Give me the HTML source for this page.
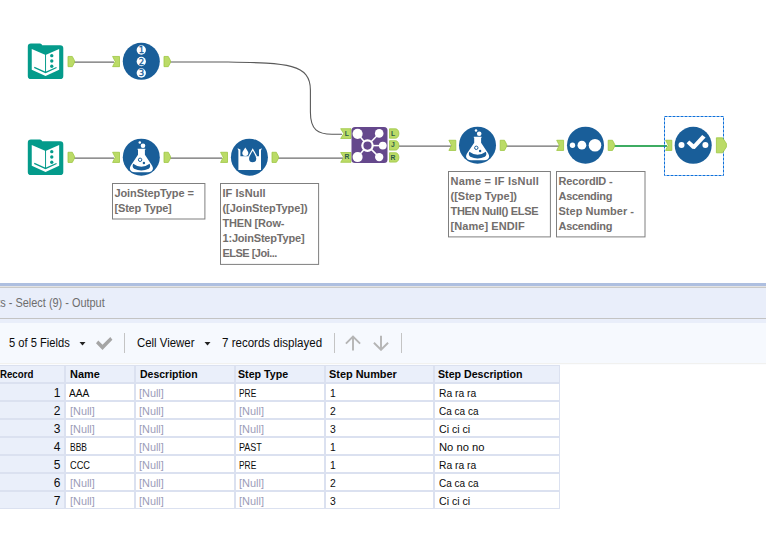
<!DOCTYPE html>
<html>
<head>
<meta charset="utf-8">
<title>Workflow</title>
<style>
html,body{margin:0;padding:0;background:#fff;}
body{width:766px;height:548px;overflow:hidden;position:relative;font-family:"Liberation Sans",sans-serif;}
#canvas{position:absolute;left:0;top:0;width:766px;height:283px;}
.abs{position:absolute;}
.ann{position:absolute;color:#726e6c;font-weight:bold;font-size:11px;line-height:15px;white-space:nowrap;}
#band{left:0;top:283px;width:766px;height:3px;background:#aebfe0;}
#l1{left:0;top:286px;width:766px;height:1px;background:#e3e3e3;}
#l2{left:0;top:287px;width:766px;height:1px;background:#c9c9c9;}
#title{left:0;top:288px;width:766px;height:30px;background:#e9eefa;color:#6d6d6d;font-size:12px;line-height:30px;white-space:nowrap;overflow:hidden;}
#l3{left:0;top:318px;width:766px;height:1px;background:#c3c3c3;}
#tb{left:0;top:319px;width:766px;height:44px;background:#f6f9fe;font-size:12px;color:#0c0c0c;}
#l3b{left:0;top:319px;width:766px;height:4px;background:#e9eefa;}
#l4{left:0;top:363px;width:766px;height:1px;background:#f1f1ef;}
#l5{left:0;top:364px;width:766px;height:1px;background:#fbfcfe;}
.tt{position:absolute;top:1px;line-height:47px;white-space:nowrap;}
.sep{position:absolute;top:14px;width:1px;height:20px;background:#c4c4c4;}
#grid{left:0;top:365px;width:560px;height:144px;background:#dbe1f0;}
.c{position:absolute;height:16px;line-height:18px;font-size:11.5px;color:#0c0c0c;white-space:nowrap;overflow:hidden;box-sizing:border-box;padding-left:0;background:#fff;}
.h{background:#eaeffa;font-weight:bold;font-size:11px;line-height:16px;color:#050505;}
.r{background:#eaeffa;text-align:right;padding-right:3.5px;padding-left:0;font-size:12px;}
.n{color:#9c9db8;}
.s{display:inline-block;transform-origin:0 50%;}
</style>
</head>
<body>
<svg id="canvas" width="766" height="283" viewBox="0 0 766 283">
<line x1="74" y1="62" x2="114" y2="62" stroke="#6c6c6c" stroke-width="1.25"/>
<line x1="74" y1="158" x2="114" y2="158" stroke="#6c6c6c" stroke-width="1.25"/>
<line x1="170" y1="158" x2="222" y2="158" stroke="#6c6c6c" stroke-width="1.25"/>
<line x1="278" y1="158" x2="343" y2="158" stroke="#6c6c6c" stroke-width="1.25"/>
<line x1="399" y1="146" x2="452" y2="146" stroke="#6c6c6c" stroke-width="1.25"/>
<line x1="505" y1="146" x2="560" y2="146" stroke="#6c6c6c" stroke-width="1.25"/>
<line x1="612" y1="146" x2="667" y2="146" stroke="#3eac62" stroke-width="2"/>
<path d="M170 62 L228 62 C288 63 310.4 64 310.4 90 L310.4 112 C310.4 130 318 134.2 332 134.2 L342 134.2" fill="none" stroke="#5a5a5a" stroke-width="1.1"/>
<g transform="translate(27.8,43.6) scale(0.986)">
<path d="M0 3.2 Q0 0 3.2 0 H12.4 Q14 0 14.6 1.6 H32.8 Q36 1.6 36 4.8 V32.8 Q36 36 32.8 36 H3.2 Q0 36 0 32.8 Z" fill="#049b8b"/>
<path d="M4 5.5 L17.5 11.3 V28.3 L6.8 23.6 L6.3 24.7 L18 30 L29.4 24.8 L28.9 23.7 L18.5 28.3 V11.3 L31.8 5.5 V26.6 L18 32.8 L4 26.6 Z" fill="#fff"/>
<circle cx="24.3" cy="12.2" r="1.7" fill="#049b8b"/><circle cx="24.3" cy="17.6" r="1.7" fill="#049b8b"/><circle cx="24.3" cy="23" r="1.7" fill="#049b8b"/>
</g>
<path d="M68.00 56.45 h4.29 l2.21 4.20 v1.8 l-2.21 4.20 h-4.29 z" fill="#bbdb67" stroke="#9dc642" stroke-width="0.8" stroke-linejoin="round"/>
<path d="M112.60 56.45 h6.9 v10.2 h-6.9 l2.6 -5.1 z" fill="#bbdb67" stroke="#9dc642" stroke-width="0.8" stroke-linejoin="round"/>
<circle cx="141.3" cy="61.3" r="18.5" fill="#195e99"/><circle cx="141.3" cy="50.0" r="4.65" fill="#fff"/><text x="141.4" y="53.05" text-anchor="middle" font-family="DejaVu Sans, Liberation Sans, sans-serif" font-size="8.5" fill="#195e99" stroke="#195e99" stroke-width="0.3">1</text><circle cx="141.3" cy="61.5" r="4.65" fill="#fff"/><text x="141.4" y="64.55" text-anchor="middle" font-family="DejaVu Sans, Liberation Sans, sans-serif" font-size="8.5" fill="#195e99" stroke="#195e99" stroke-width="0.3">2</text><circle cx="141.3" cy="73.0" r="4.65" fill="#fff"/><text x="141.4" y="76.05" text-anchor="middle" font-family="DejaVu Sans, Liberation Sans, sans-serif" font-size="8.5" fill="#195e99" stroke="#195e99" stroke-width="0.3">3</text>
<path d="M164.00 56.45 h4.29 l2.21 4.20 v1.8 l-2.21 4.20 h-4.29 z" fill="#bbdb67" stroke="#9dc642" stroke-width="0.8" stroke-linejoin="round"/>
<g transform="translate(27.8,139.6) scale(0.986)">
<path d="M0 3.2 Q0 0 3.2 0 H12.4 Q14 0 14.6 1.6 H32.8 Q36 1.6 36 4.8 V32.8 Q36 36 32.8 36 H3.2 Q0 36 0 32.8 Z" fill="#049b8b"/>
<path d="M4 5.5 L17.5 11.3 V28.3 L6.8 23.6 L6.3 24.7 L18 30 L29.4 24.8 L28.9 23.7 L18.5 28.3 V11.3 L31.8 5.5 V26.6 L18 32.8 L4 26.6 Z" fill="#fff"/>
<circle cx="24.3" cy="12.2" r="1.7" fill="#049b8b"/><circle cx="24.3" cy="17.6" r="1.7" fill="#049b8b"/><circle cx="24.3" cy="23" r="1.7" fill="#049b8b"/>
</g>
<path d="M68.00 152.25 h4.29 l2.21 4.20 v1.8 l-2.21 4.20 h-4.29 z" fill="#bbdb67" stroke="#9dc642" stroke-width="0.8" stroke-linejoin="round"/>
<path d="M112.60 152.25 h6.9 v10.2 h-6.9 l2.6 -5.1 z" fill="#bbdb67" stroke="#9dc642" stroke-width="0.8" stroke-linejoin="round"/>
<circle cx="141.3" cy="157.2" r="18.5" fill="#195e99"/><g transform="translate(141.3,157.2)">
<path d="M-3.7 -8.4 H4.1 V-7.4 H3.6 V-2.4 L10.7 8.4 Q12.8 12.2 10.2 14 Q8.8 15 6.6 15 H-6.4 Q-8.6 15 -10 14 Q-12.6 12.2 -10.5 8.4 L-3.3 -2.4 V-7.4 H-3.7 Z" fill="#fff"/>
<path d="M-8.1 6.5 Q0 12.6 8.3 6.5 Q9.8 9.4 7.4 11.6 Q0 15 -7.2 11.6 Q-9.6 9.4 -8.1 6.5 Z" fill="#195e99"/>
<circle cx="-1.2" cy="2.6" r="1.7" fill="#fff" stroke="#195e99" stroke-width="1"/>
<circle cx="2.6" cy="5.8" r="1.2" fill="#195e99"/>
<circle cx="-1.5" cy="-14.6" r="1.25" fill="#fff"/>
<circle cx="1.7" cy="-11.4" r="2.3" fill="#fff"/>
</g>
<path d="M164.00 152.25 h4.29 l2.21 4.20 v1.8 l-2.21 4.20 h-4.29 z" fill="#bbdb67" stroke="#9dc642" stroke-width="0.8" stroke-linejoin="round"/>
<path d="M220.60 152.25 h6.9 v10.2 h-6.9 l2.6 -5.1 z" fill="#bbdb67" stroke="#9dc642" stroke-width="0.8" stroke-linejoin="round"/>
<circle cx="249.4" cy="157.2" r="18.5" fill="#195e99"/><g transform="translate(249.70000000000002,157.2)">
<path d="M-12.2 -8.9 L-9.3 -7.6 V-0.9 H9.3 V-7.6 L12.2 -8.9 L11.3 -6.6 V12.8 H-11.3 V-6.6 Z" fill="#fff"/>
<path d="M-4.4 -9.6 Q-1.4 -5.4 -1.4 -4.2 A3 3 0 0 1 -7.4 -4.2 Q-7.4 -5.4 -4.4 -9.6 Z" fill="#fff"/>
<path d="M-1.6 -0.8 L3 -9 L7.6 -0.8 Z" fill="#fff"/>
<path d="M3 -6.4 Q6.6 -0.6 6.6 1.5 A3.6 3.6 0 0 1 -0.6 1.5 Q-0.6 -0.6 3 -6.4 Z" fill="#195e99"/>
</g>
<path d="M272.00 152.25 h4.29 l2.21 4.20 v1.8 l-2.21 4.20 h-4.29 z" fill="#bbdb67" stroke="#9dc642" stroke-width="0.8" stroke-linejoin="round"/>
<path d="M340.70 128.70 h10.3 v9.8 h-10.3 l3 -4.9 z" fill="#bbdb67" stroke="#9dc642" stroke-width="0.8" stroke-linejoin="round"/>
<path d="M340.70 152.50 h10.3 v9.8 h-10.3 l3 -4.9 z" fill="#bbdb67" stroke="#9dc642" stroke-width="0.8" stroke-linejoin="round"/>
<rect x="351.5" y="127" width="36" height="36" rx="3.5" fill="#65488c"/><g stroke="#fff" stroke-width="1.5"><line x1="367.5" y1="145.6" x2="357.6" y2="133.8"/><line x1="367.5" y1="145.6" x2="379.2" y2="133.4"/><line x1="367.5" y1="145.6" x2="382.8" y2="145.6"/><line x1="367.5" y1="145.6" x2="379.2" y2="157.1"/><line x1="367.5" y1="145.6" x2="357.6" y2="157.1"/></g><circle cx="357.6" cy="133.8" r="5.1" fill="#fff"/><circle cx="357.6" cy="157.1" r="5" fill="#fff"/><circle cx="379.2" cy="133.4" r="4.3" fill="#fff"/><circle cx="379.2" cy="157.1" r="4.2" fill="#fff"/><circle cx="382.8" cy="145.6" r="3.9" fill="#fff"/><circle cx="367.5" cy="145.6" r="5.2" fill="#65488c" stroke="#fff" stroke-width="2.2"/>
<path d="M389.50 128.80 h6.20 c1.92 0 3.20 2.35 3.20 4.70 c0 2.35 -1.28 4.70 -3.20 4.70 h-6.20 z" fill="#bbdb67" stroke="#9dc642" stroke-width="0.8" stroke-linejoin="round"/>
<path d="M389.50 140.70 h6.20 c1.92 0 3.20 2.35 3.20 4.70 c0 2.35 -1.28 4.70 -3.20 4.70 h-6.20 z" fill="#bbdb67" stroke="#9dc642" stroke-width="0.8" stroke-linejoin="round"/>
<path d="M389.50 152.70 h6.20 c1.92 0 3.20 2.35 3.20 4.70 c0 2.35 -1.28 4.70 -3.20 4.70 h-6.20 z" fill="#bbdb67" stroke="#9dc642" stroke-width="0.8" stroke-linejoin="round"/>
<text x="346.8" y="136.2" text-anchor="middle" font-family="Liberation Sans, sans-serif" font-size="6.8" font-weight="bold" fill="#2a5a48">L</text>
<text x="347" y="159.3" text-anchor="middle" font-family="Liberation Sans, sans-serif" font-size="6.8" font-weight="bold" fill="#2a5a48">R</text>
<text x="393" y="136.2" text-anchor="middle" font-family="Liberation Sans, sans-serif" font-size="6.8" font-weight="bold" fill="#2a5a48">L</text>
<text x="393" y="147.4" text-anchor="middle" font-family="Liberation Sans, sans-serif" font-size="6.8" font-weight="bold" fill="#2a5a48">J</text>
<text x="393" y="159.5" text-anchor="middle" font-family="Liberation Sans, sans-serif" font-size="6.8" font-weight="bold" fill="#2a5a48">R</text>
<path d="M448.90 140.25 h6.9 v10.2 h-6.9 l2.6 -5.1 z" fill="#bbdb67" stroke="#9dc642" stroke-width="0.8" stroke-linejoin="round"/>
<circle cx="477.5" cy="145.2" r="18.5" fill="#195e99"/><g transform="translate(477.5,145.2)">
<path d="M-3.7 -8.4 H4.1 V-7.4 H3.6 V-2.4 L10.7 8.4 Q12.8 12.2 10.2 14 Q8.8 15 6.6 15 H-6.4 Q-8.6 15 -10 14 Q-12.6 12.2 -10.5 8.4 L-3.3 -2.4 V-7.4 H-3.7 Z" fill="#fff"/>
<path d="M-8.1 6.5 Q0 12.6 8.3 6.5 Q9.8 9.4 7.4 11.6 Q0 15 -7.2 11.6 Q-9.6 9.4 -8.1 6.5 Z" fill="#195e99"/>
<circle cx="-1.2" cy="2.6" r="1.7" fill="#fff" stroke="#195e99" stroke-width="1"/>
<circle cx="2.6" cy="5.8" r="1.2" fill="#195e99"/>
<circle cx="-1.5" cy="-14.6" r="1.25" fill="#fff"/>
<circle cx="1.7" cy="-11.4" r="2.3" fill="#fff"/>
</g>
<path d="M500.20 140.25 h4.29 l2.21 4.20 v1.8 l-2.21 4.20 h-4.29 z" fill="#bbdb67" stroke="#9dc642" stroke-width="0.8" stroke-linejoin="round"/>
<path d="M556.70 140.25 h6.9 v10.2 h-6.9 l2.6 -5.1 z" fill="#bbdb67" stroke="#9dc642" stroke-width="0.8" stroke-linejoin="round"/>
<circle cx="585.5" cy="145.2" r="18.5" fill="#195e99"/><circle cx="572.5" cy="145.2" r="2.7" fill="#fff"/><circle cx="581.9" cy="145.2" r="4.4" fill="#fff"/><circle cx="595.0" cy="145.2" r="6.3" fill="#fff"/>
<path d="M608.20 140.25 h4.29 l2.21 4.20 v1.8 l-2.21 4.20 h-4.29 z" fill="#bbdb67" stroke="#9dc642" stroke-width="0.8" stroke-linejoin="round"/>
<rect x="664.5" y="116.5" width="59" height="59" fill="none" stroke="#0e70da" stroke-width="1" stroke-dasharray="3 1"/>
<path d="M665.60 140.25 h6.2 v10.2 h-6.2 l2.6 -5.1 z" fill="#bbdb67" stroke="#9dc642" stroke-width="0.8" stroke-linejoin="round"/>
<circle cx="693.2" cy="145.3" r="18.5" fill="#195e99"/><circle cx="681.5" cy="144.9" r="3" fill="#fff"/><circle cx="705.4000000000001" cy="144.9" r="3" fill="#fff"/><path d="M686.6 143.3 L689.3000000000001 140.60000000000002 L693.7 144.3 L702.2 135.10000000000002 L705.6 137.5 L694.8000000000001 149.0 L692.3000000000001 148.8 Z" fill="#fff"/>
<path d="M716.4 137.8 h6.2 l3.8 5.8 v3.4 l-3.8 5.8 h-6.2 z" fill="#bbdb67" stroke="#9dc642" stroke-width="0.8" stroke-linejoin="round"/>
<rect x="112.5" y="183.5" width="92.4" height="35.5" fill="#fff" stroke="#7f7f7f" stroke-width="1"/>
<rect x="220.5" y="183.5" width="98.1" height="80.9" fill="#fff" stroke="#7f7f7f" stroke-width="1"/>
<rect x="448.5" y="171.5" width="101.9" height="65.4" fill="#fff" stroke="#7f7f7f" stroke-width="1"/>
<rect x="556.5" y="171.5" width="88.5" height="65.4" fill="#fff" stroke="#7f7f7f" stroke-width="1"/>
</svg>
<div class="ann" style="left:114.5px;top:186px"><span style="letter-spacing:-0.11px">JoinStepType =</span><br><span style="letter-spacing:-0.18px">[Step Type]</span></div>
<div class="ann" style="left:222.5px;top:186px"><span style="letter-spacing:0.04px">IF IsNull</span><br><span style="letter-spacing:-0.06px">([JoinStepType])</span><br><span style="letter-spacing:-0.18px">THEN [Row-</span><br><span style="letter-spacing:-0.19px">1:JoinStepType]</span><br><span style="letter-spacing:-0.52px">ELSE [Joi...</span></div>
<div class="ann" style="left:450.5px;top:174px"><span style="letter-spacing:0.21px">Name = IF IsNull</span><br><span style="letter-spacing:0.01px">([Step Type])</span><br><span style="letter-spacing:-0.32px">THEN Null() ELSE</span><br><span style="letter-spacing:0.07px">[Name] ENDIF</span></div>
<div class="ann" style="left:558.5px;top:174px"><span style="letter-spacing:-0.16px">RecordID -</span><br><span style="letter-spacing:-0.29px">Ascending</span><br><span style="letter-spacing:0.03px">Step Number -</span><br><span style="letter-spacing:-0.29px">Ascending</span></div>

<div class="abs" id="band"></div>
<div class="abs" id="l1"></div>
<div class="abs" id="l2"></div>
<div class="abs" id="title"><span class="abs" style="right:661px;top:0;transform:scaleX(0.91);transform-origin:100% 50%">Results - Select (9) - Output</span></div>
<div class="abs" id="l3"></div>
<div class="abs" id="tb">
<span class="tt" style="left:0px"><span class="s" style="transform:scaleX(0.930);margin-left:8.82px">5 of 5 Fields</span></span>
<svg class="abs" style="left:78px;top:22px" width="10" height="6"><path d="M1.5 1 h6 l-3 3.4 z" fill="#222"/></svg>
<svg class="abs" style="left:94px;top:16px" width="20" height="16"><path d="M2 8.3 L4.3 5.5 L8.5 9.7 L16.3 2.1 L18.4 4.7 L8.5 14.9 Z" fill="#a5a5a5"/></svg>
<div class="sep" style="left:124px"></div>
<span class="tt" style="left:130px"><span class="s" style="transform:scaleX(0.951);margin-left:7.11px">Cell Viewer</span></span>
<svg class="abs" style="left:203px;top:22px" width="10" height="6"><path d="M1.5 1 h6 l-3 3.4 z" fill="#222"/></svg>
<span class="tt" style="left:215px"><span class="s" style="transform:scaleX(0.962);margin-left:6.75px">7 records displayed</span></span>
<div class="sep" style="left:334px"></div>
<svg class="abs" style="left:344px;top:16px" width="18" height="16"><path d="M9 1.8 V15.4 M1.9 8.6 L9 1.6 L16.1 8.6" fill="none" stroke="#b5b5b5" stroke-width="1.9"/></svg>
<svg class="abs" style="left:372px;top:16px" width="18" height="16"><path d="M9 0.8 V14.6 M1.9 7.8 L9 14.8 L16.1 7.8" fill="none" stroke="#b5b5b5" stroke-width="1.9"/></svg>
<div class="sep" style="left:401px"></div>
</div>
<div class="abs" id="l3b"></div>
<div class="abs" id="l4"></div>
<div class="abs" id="l5"></div>
<div class="abs" id="grid">
<div class="c h" style="left:0px;top:1px;width:64px;padding-left:0;"><span class="s" style="transform:scaleX(0.879);margin-left:0.45px">Record</span></div><div class="c h" style="left:66px;top:1px;width:68px;"><span class="s" style="transform:scaleX(0.993);margin-left:3.69px">Name</span></div><div class="c h" style="left:136px;top:1px;width:98px;"><span class="s" style="transform:scaleX(0.953);margin-left:3.69px">Description</span></div><div class="c h" style="left:236px;top:1px;width:88px;"><span class="s" style="transform:scaleX(0.967);margin-left:1.98px">Step Type</span></div><div class="c h" style="left:326px;top:1px;width:107px;"><span class="s" style="transform:scaleX(0.991);margin-left:3.24px">Step Number</span></div><div class="c h" style="left:435px;top:1px;width:124px;"><span class="s" style="transform:scaleX(0.967);margin-left:3.24px">Step Description</span></div>
<div class="c r" style="left:0px;top:19px;width:64px">1</div><div class="c" style="left:66px;top:19px;width:68px"><span class="s" style="transform:scaleX(0.887);margin-left:2.97px">AAA</span></div><div class="c n" style="left:136px;top:19px;width:98px"><span class="s" style="transform:scaleX(0.946);margin-left:3.42px">[Null]</span></div><div class="c" style="left:236px;top:19px;width:88px"><span class="s" style="transform:scaleX(0.729);margin-left:2.52px">PRE</span></div><div class="c" style="left:326px;top:19px;width:107px"><span class="s" style="transform:scaleX(0.900);margin-left:3.80px">1</span></div><div class="c" style="left:435px;top:19px;width:124px"><span class="s" style="transform:scaleX(0.895);margin-left:3.96px">Ra ra ra</span></div>
<div class="c r" style="left:0px;top:37px;width:64px">2</div><div class="c n" style="left:66px;top:37px;width:68px"><span class="s" style="transform:scaleX(0.946);margin-left:4.23px">[Null]</span></div><div class="c n" style="left:136px;top:37px;width:98px"><span class="s" style="transform:scaleX(0.946);margin-left:3.42px">[Null]</span></div><div class="c n" style="left:236px;top:37px;width:88px"><span class="s" style="transform:scaleX(0.954);margin-left:2.52px">[Null]</span></div><div class="c" style="left:326px;top:37px;width:107px"><span class="s" style="transform:scaleX(0.900);margin-left:3.80px">2</span></div><div class="c" style="left:435px;top:37px;width:124px"><span class="s" style="transform:scaleX(0.872);margin-left:3.78px">Ca ca ca</span></div>
<div class="c r" style="left:0px;top:55px;width:64px">3</div><div class="c n" style="left:66px;top:55px;width:68px"><span class="s" style="transform:scaleX(0.946);margin-left:4.23px">[Null]</span></div><div class="c n" style="left:136px;top:55px;width:98px"><span class="s" style="transform:scaleX(0.946);margin-left:3.42px">[Null]</span></div><div class="c n" style="left:236px;top:55px;width:88px"><span class="s" style="transform:scaleX(0.954);margin-left:2.52px">[Null]</span></div><div class="c" style="left:326px;top:55px;width:107px"><span class="s" style="transform:scaleX(0.900);margin-left:3.80px">3</span></div><div class="c" style="left:435px;top:55px;width:124px"><span class="s" style="transform:scaleX(0.921);margin-left:3.78px">Ci ci ci</span></div>
<div class="c r" style="left:0px;top:73px;width:64px">4</div><div class="c" style="left:66px;top:73px;width:68px"><span class="s" style="transform:scaleX(0.739);margin-left:4.23px">BBB</span></div><div class="c n" style="left:136px;top:73px;width:98px"><span class="s" style="transform:scaleX(0.946);margin-left:3.42px">[Null]</span></div><div class="c" style="left:236px;top:73px;width:88px"><span class="s" style="transform:scaleX(0.783);margin-left:2.52px">PAST</span></div><div class="c" style="left:326px;top:73px;width:107px"><span class="s" style="transform:scaleX(0.900);margin-left:3.80px">1</span></div><div class="c" style="left:435px;top:73px;width:124px"><span class="s" style="transform:scaleX(0.974);margin-left:3.96px">No no no</span></div>
<div class="c r" style="left:0px;top:91px;width:64px">5</div><div class="c" style="left:66px;top:91px;width:68px"><span class="s" style="transform:scaleX(0.804);margin-left:3.78px">CCC</span></div><div class="c n" style="left:136px;top:91px;width:98px"><span class="s" style="transform:scaleX(0.946);margin-left:3.42px">[Null]</span></div><div class="c" style="left:236px;top:91px;width:88px"><span class="s" style="transform:scaleX(0.729);margin-left:2.52px">PRE</span></div><div class="c" style="left:326px;top:91px;width:107px"><span class="s" style="transform:scaleX(0.900);margin-left:3.80px">1</span></div><div class="c" style="left:435px;top:91px;width:124px"><span class="s" style="transform:scaleX(0.895);margin-left:3.96px">Ra ra ra</span></div>
<div class="c r" style="left:0px;top:109px;width:64px">6</div><div class="c n" style="left:66px;top:109px;width:68px"><span class="s" style="transform:scaleX(0.946);margin-left:4.23px">[Null]</span></div><div class="c n" style="left:136px;top:109px;width:98px"><span class="s" style="transform:scaleX(0.946);margin-left:3.42px">[Null]</span></div><div class="c n" style="left:236px;top:109px;width:88px"><span class="s" style="transform:scaleX(0.954);margin-left:2.52px">[Null]</span></div><div class="c" style="left:326px;top:109px;width:107px"><span class="s" style="transform:scaleX(0.900);margin-left:3.80px">2</span></div><div class="c" style="left:435px;top:109px;width:124px"><span class="s" style="transform:scaleX(0.872);margin-left:3.78px">Ca ca ca</span></div>
<div class="c r" style="left:0px;top:127px;width:64px">7</div><div class="c n" style="left:66px;top:127px;width:68px"><span class="s" style="transform:scaleX(0.946);margin-left:4.23px">[Null]</span></div><div class="c n" style="left:136px;top:127px;width:98px"><span class="s" style="transform:scaleX(0.946);margin-left:3.42px">[Null]</span></div><div class="c n" style="left:236px;top:127px;width:88px"><span class="s" style="transform:scaleX(0.954);margin-left:2.52px">[Null]</span></div><div class="c" style="left:326px;top:127px;width:107px"><span class="s" style="transform:scaleX(0.900);margin-left:3.80px">3</span></div><div class="c" style="left:435px;top:127px;width:124px"><span class="s" style="transform:scaleX(0.921);margin-left:3.78px">Ci ci ci</span></div>
</div>
</body>
</html>
